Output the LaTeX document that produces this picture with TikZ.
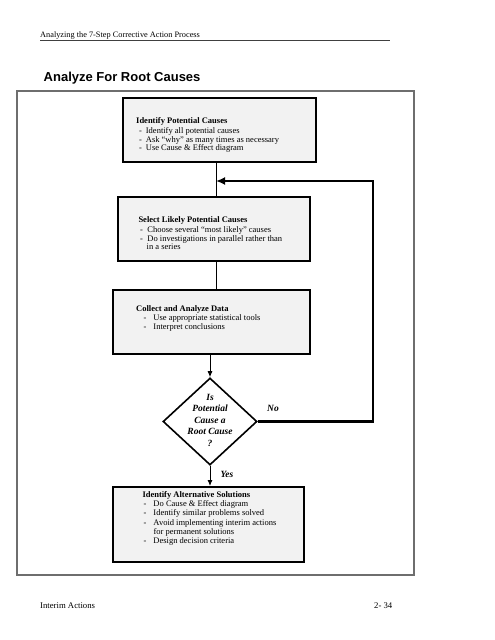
\documentclass[tikz,border=0pt]{standalone}
\usepackage{fontspec}
\setmainfont{Liberation Serif}
\newfontfamily\arialfont{Liberation Sans}
\usetikzlibrary{arrows.meta,shapes.geometric}
\definecolor{boxfill}{HTML}{F2F2F2}
\definecolor{framegray}{HTML}{6E6E6E}
\newcommand{\dsh}[1]{\makebox[#1][l]{-}}
\begin{document}
\begin{tikzpicture}[x=1pt,y=-1pt,
  box/.style={draw=black,line width=1.6pt,fill=boxfill,anchor=north west,inner sep=0pt},
  txt/.style={anchor=base west,inner sep=0pt,font=\fontsize{8.5}{10}\selectfont},
  ttl/.style={txt,font=\fontsize{8.5}{10}\selectfont\bfseries},
  lbl/.style={inner sep=0pt,font=\fontsize{9.5}{11.5}\selectfont\bfseries\itshape},
  conn/.style={line width=0.9pt,draw=black},
  thinarrow/.style={conn,-{Latex[length=6pt,width=5pt]}},
  loop/.style={line width=2.4pt,draw=black,-{Latex[length=9pt,width=8pt]}}
]
\useasboundingbox (0,0) rectangle (495,640);

% header
\node[txt,font=\fontsize{8.3}{10}\selectfont] (hdr) at (40,37.3) {Analyzing the 7-Step Corrective Action Process};
\draw[line width=1pt,black!75] (40,40.5) -- (390,40.5);
\node[anchor=base west,inner sep=0pt,font=\arialfont\fontsize{13}{15}\selectfont\bfseries] (title) at (43.5,81) {Analyze For Root Causes};

% frame
\draw[framegray,line width=1.2pt] (17,91) rectangle (414,575);

% footer
\node[txt,font=\fontsize{8.7}{10}\selectfont] (foot) at (40,608) {Interim Actions};
\node[anchor=base east,inner sep=0pt,font=\fontsize{8.7}{10}\selectfont] (page) at (392.5,608) {2- 34};

% boxes
\node[box,minimum width=193pt,minimum height=64pt] (b1) at (122,97) {};
\node[box,minimum width=192pt,minimum height=64pt] (b2) at (117,196) {};
\node[box,minimum width=197pt,minimum height=64pt] (b3) at (112,289) {};
\node[box,minimum width=191pt,minimum height=75pt] (b4) at (112,486) {};
\node[draw=black,line width=1.6pt,fill=white,shape=diamond,minimum width=94pt,minimum height=87pt,inner sep=0pt] (dia) at (210,421.5) {};

% box 1 text
\node[ttl] (b1t) at (136,123.5) {Identify Potential Causes};
\node[txt] (b1a) at (139,133.3) {\dsh{6.7pt}Identify all potential causes};
\node[txt] (b1b) at (139,142.2) {\dsh{6.7pt}Ask “why” as many times as necessary};
\node[txt] (b1c) at (139,150.9) {\dsh{6.7pt}Use Cause \& Effect diagram};

% box 2 text
\node[ttl] (b2t) at (138.3,222.8) {Select Likely Potential Causes};
\node[txt] (b2a) at (139.8,232) {\dsh{7.4pt}Choose several “most likely” causes};
\node[txt] (b2b) at (139.8,241) {\dsh{7.4pt}Do investigations in parallel rather than};
\node[txt] (b2c) at (146.5,249.6) {in a series};

% box 3 text
\node[ttl] (b3t) at (136,311) {Collect and Analyze Data};
\node[txt] (b3a) at (143.3,320.2) {\dsh{10pt}Use appropriate statistical tools};
\node[txt] (b3b) at (143.3,329.2) {\dsh{10pt}Interpret conclusions};

% box 4 text
\node[ttl] (b4t) at (142.3,497.8) {Identify Alternative Solutions};
\node[txt] (b4a) at (143.3,506.5) {\dsh{10pt}Do Cause \& Effect diagram};
\node[txt] (b4b) at (143.3,515.8) {\dsh{10pt}Identify similar problems solved};
\node[txt] (b4c) at (143.3,525.1) {\dsh{10pt}Avoid implementing interim actions};
\node[txt] (b4d) at (153.3,534.3) {for permanent solutions};
\node[txt] (b4e) at (143.3,543.6) {\dsh{10pt}Design decision criteria};

% diamond text
\node[lbl,align=center] (dtext) at (210,420) {Is\\Potential\\Cause a\\Root Cause\\?};
\node[lbl] (no) at (273,408) {No};
\node[lbl] (yes) at (227,474) {Yes};

% connectors
\coordinate (spine) at (216,0);
\coordinate (join) at (216,181);
\coordinate (corner) at (373,421.5);
\draw[conn] (b1.south -| spine) -- (b2.north -| spine);
\draw[conn] (b2.south -| spine) -- (b3.north -| spine);
\draw[thinarrow] (b3.south -| dia.north) -- (dia.north);
\draw[thinarrow] (dia.south) -- (dia.south |- b4.north);
\draw[loop] (dia.east) -- (corner) |- (join);
\end{tikzpicture}
\end{document}
